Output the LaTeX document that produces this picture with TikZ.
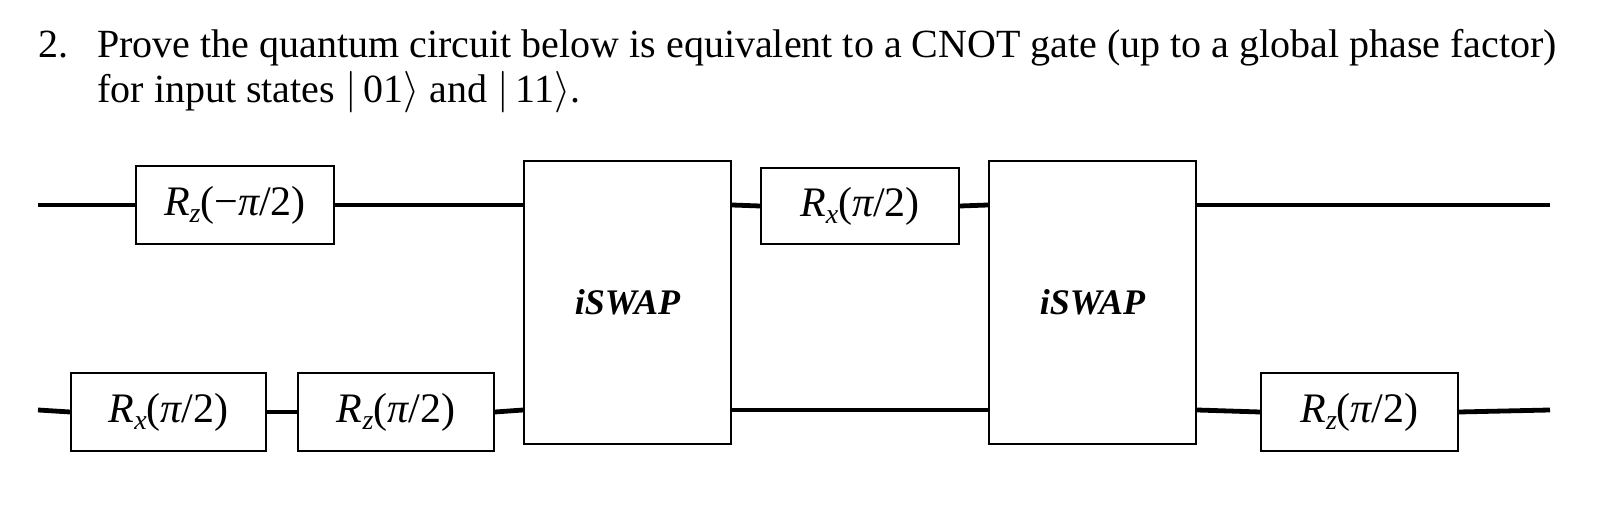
\documentclass[tikz,border=0pt]{standalone}
\usepackage{fontspec}
\setmainfont{Liberation Serif}
\newcommand{\gsub}[1]{\raisebox{-0.4ex}{\fontsize{14}{14}\selectfont\itshape #1}}
\newcommand{\gR}[2]{{\itshape R}\gsub{#1}(#2{\itshape π}/2)}
\begin{document}
\begin{tikzpicture}[x=0.5pt,y=-0.5pt,
  gate/.style={draw,line width=1pt,fill=white,inner sep=0pt,anchor=north west,font=\fontsize{21}{24}\selectfont},
  wire/.style={line width=2.4pt}]
\useasboundingbox (0,0) rectangle (1617,522);
\node[anchor=base west,font=\fontsize{20}{24}\selectfont,inner sep=0] (n) at (38,58) {2.};
\node[anchor=base west,font=\fontsize{20}{24}\selectfont,inner sep=0] (l1) at (97,58) {Prove the quantum circuit below is equivalent to a CNOT gate (up to a global phase factor)};
\node[anchor=base west,font=\fontsize{20}{24}\selectfont,inner sep=0] (l2) at (97,103) {for input states $|\,$01$\rangle$ and $|\,$11$\rangle$.};
% gates
\node[gate,minimum width=99pt,minimum height=39pt] (a) at (135,165) {\gR{z}{−}};
\node[gate,minimum width=97.5pt,minimum height=39pt] (b) at (70,372) {\gR{x}{}};
\node[gate,minimum width=98pt,minimum height=39pt] (c) at (297,372) {\gR{z}{}};
\node[gate,minimum width=103.5pt,minimum height=141.5pt,font=\fontsize{18}{20}\selectfont\bfseries\itshape] (s1) at (523,160) {iSWAP};
\node[gate,minimum width=99pt,minimum height=38pt] (d) at (760,167) {\gR{x}{}};
\node[gate,minimum width=103.5pt,minimum height=141.5pt,font=\fontsize{18}{20}\selectfont\bfseries\itshape] (s2) at (988,160) {iSWAP};
\node[gate,minimum width=98.5pt,minimum height=39pt] (e) at (1260,372) {\gR{z}{}};
\coordinate (tl) at (38,205); \coordinate (tr) at (1550,205);
\coordinate (bl) at (38,410); \coordinate (br) at (1550,410);
% wires
\draw[wire] (tl) -- (a.west);
\draw[wire] (a.east) -- (s1.west |- tl);
\draw[wire] (s1.east |- tl) -- (d.west);
\draw[wire] (d.east) -- (s2.west |- tl);
\draw[wire] (s2.east |- tl) -- (tr);
\draw[wire] (bl) -- (b.west);
\draw[wire] (b.east) -- (c.west);
\draw[wire] (c.east) -- (s1.west |- bl);
\draw[wire] (s1.east |- bl) -- (s2.west |- bl);
\draw[wire] (s2.east |- bl) -- (e.west);
\draw[wire] (e.east) -- (br);
\end{tikzpicture}
\end{document}
